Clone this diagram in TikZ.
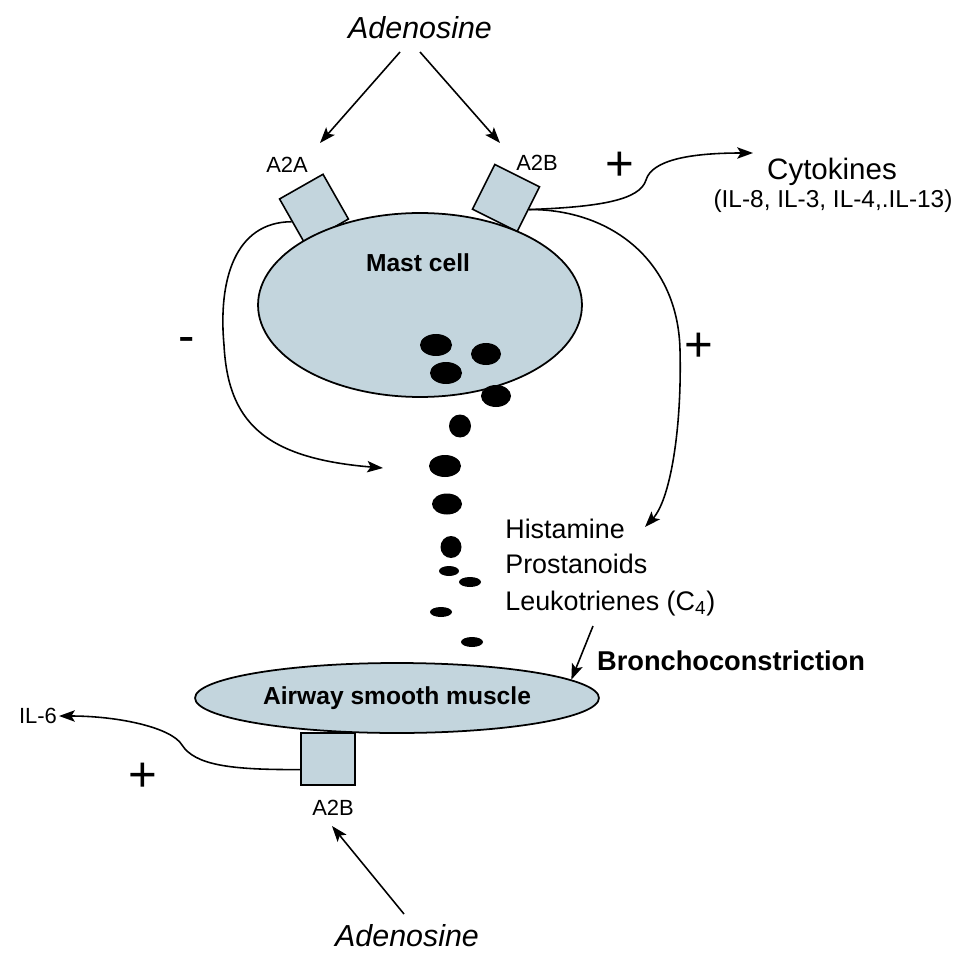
\documentclass[tikz,border=0pt]{standalone}
\usepackage{fontspec}
\setmainfont{Liberation Sans}
\usetikzlibrary{arrows.meta, shapes.geometric}

\definecolor{cellblue}{RGB}{195,213,221}

\tikzset{
    arr/.style = {-{Stealth[length=9pt, width=6.5pt, inset=2pt]}, line width=0.9pt},
    receptor/.style = {draw, fill=cellblue, line width=0.9pt, inner sep=0pt, minimum width=1cm, minimum height=1cm},
    cell/.style = {ellipse, draw, fill=cellblue, line width=1pt, inner sep=0pt},
    sign/.style = {font=\fontsize{28}{30}\selectfont, inner sep=0pt},
    rlabel/.style = {font=\fontsize{12.5}{15}\selectfont, inner sep=1pt},
    ado/.style = {font=\itshape\fontsize{17.3}{20}\selectfont, inner sep=1pt},
    medi/.style = {font=\fontsize{15.3}{18}\selectfont, inner sep=0pt, anchor=base west},
    bold/.style = {font=\bfseries\fontsize{14}{16}\selectfont, inner sep=0pt},
}

\begin{document}
\begin{tikzpicture}[x=0.02cm, y=-0.02cm]
    \useasboundingbox (0,0) rectangle (970,979);

    % mast cell with its two receptors
    \node[receptor, rotate=29.6, minimum height=1.03cm] (a2aBox) at (314,209) {};
    \node[receptor, rotate=-26.6] (a2bBox) at (506,198) {};
    \node[cell, minimum width=6.48cm, minimum height=3.68cm] (mast) at (420,305) {};
    \node[bold] (mastLabel) at (418,263) {Mast cell};

    % granules
    \foreach \gx/\gy/\rx/\ry in {436/345/16/11, 486/354/15/11, 446/373/16/11, 496/396/15/11,
                                 460/426/11/11.5, 445/466/16/11, 447/504/15/10.5, 451/547/10.5/11,
                                 449/571/10/5, 470/582/11/5, 441/612/11/5, 472/642/11/5}
        \fill (\gx,\gy) ellipse [x radius=\rx, y radius=\ry];

    % airway smooth muscle
    \node[receptor, minimum width=1.08cm, minimum height=1.04cm] (a2bLow) at (328,759) {};
    \node[cell, minimum width=8.08cm, minimum height=1.4cm, font=\bfseries\fontsize{14}{16}\selectfont] (airway) at (397,698) {Airway smooth muscle};

    % labels
    \node[ado] (adoTop) at (420,28) {Adenosine};
    \node[ado] (adoBot) at (407,936) {Adenosine};
    \node[rlabel] (a2aLabel) at (287,165) {A2A};
    \node[rlabel] (a2bLabel) at (537,163) {A2B};
    \node[rlabel] (a2bLowLabel) at (333,808) {A2B};
    \node[rlabel] (il6) at (38,716) {IL-6};
    \node[font=\fontsize{16.8}{19}\selectfont, inner sep=0pt] (cyto) at (832,172) {Cytokines};
    \node[font=\fontsize{13.9}{16}\selectfont, inner sep=0pt] (cytoList) at (833,201) {(IL-8, IL-3, IL-4,.IL-13)};
    \node[medi] (histamine) at (505,538) {Histamine};
    \node[medi] (prostanoids) at (505,573) {Prostanoids};
    \node[medi] (leuko) at (505,610) {Leukotrienes (C\textsubscript{4})};
    \node[bold, font=\bfseries\fontsize{15.5}{18}\selectfont] (broncho) at (731,661) {Bronchoconstriction};

    \node[sign] (plusCyto) at (620,166) {+};
    \node[sign] (plusHist) at (699,347) {+};
    \node[sign] (plusIL) at (143,777) {+};
    \node[sign] (minusA2A) at (187,345) {-};

    % free ends of the arrows
    \coordinate (adoL) at (400,52);
    \coordinate (adoR) at (420,52);
    \coordinate (a2aIn) at (320,143);
    \coordinate (a2bIn) at (500,143);
    \coordinate (cytoIn) at (753,153);
    \coordinate (histIn) at (645,527);
    \coordinate (negIn) at (383,468);
    \coordinate (leukoOut) at (593,626);
    \coordinate (adoBotOut) at (404,914);
    \coordinate (a2bLowIn) at (332,826);

    \draw[arr] (adoL) -- (a2aIn);
    \draw[arr] (adoR) -- (a2bIn);
    \draw[arr] (adoBotOut) -- (a2bLowIn);
    \draw[arr] (leukoOut) -- (airway.6);

    \draw[arr] (a2bBox.east) .. controls (600,207) and (640,200) .. (646,180)
                             .. controls (652,160) and (690,153) .. (cytoIn);
    \draw[arr] (a2bBox.east) .. controls (610,209) and (678,260) .. (680,350)
                             .. controls (682,430) and (670,500) .. (histIn);
    \draw[arr] (a2aBox.west) .. controls (235,222) and (218,280) .. (224,345)
                             .. controls (228,420) and (262,458) .. (negIn);
    \draw[arr] ([yshift=-6pt]a2bLow.west) .. controls (230,770) and (195,765) .. (182,745)
                                          .. controls (172,728) and (120,716) .. (il6.east);
\end{tikzpicture}
\end{document}
